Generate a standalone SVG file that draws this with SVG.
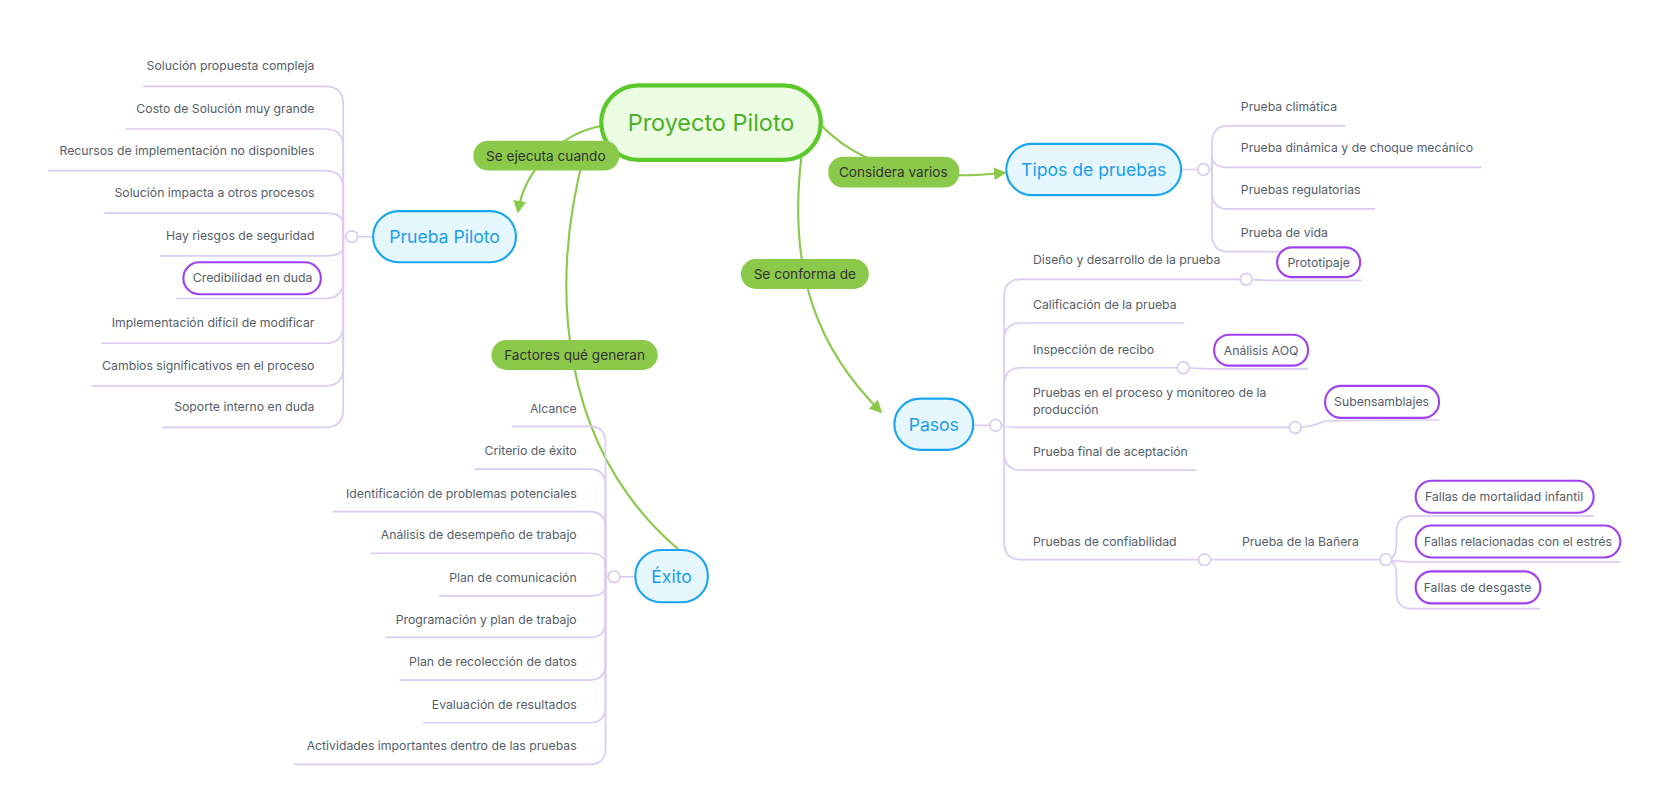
<svg xmlns="http://www.w3.org/2000/svg" width="1663" height="808" viewBox="0 0 1663 808">
<defs>
<marker id="ar" viewBox="0 0 10 10" refX="8" refY="5" markerWidth="6" markerHeight="6" orient="auto"><path d="M0,0 L10,5 L0,10 z" fill="#8bc94a"/></marker>
<style>
text{font-family:Inter,"Open Sans","Liberation Sans",sans-serif}
.it{font-size:11.5px;fill:#555e6a}
.lb{font-size:12.8px;fill:#333}
.pill{fill:#8bc94a}
.br rect{fill:#e5f6fd;stroke:#19a5f0;stroke-width:2}
.br text{font-size:16.5px;fill:#1a9eec;text-anchor:middle}
.bx{fill:#fff;stroke:#a040f0;stroke-width:2}
.ln{fill:none;stroke:#dccbf0;stroke-width:1.6}
.hub{fill:#fff;stroke:#dccbf0;stroke-width:1.6}
.cn{fill:none;stroke:#8bc94a;stroke-width:2}
</style>
</defs>
<rect width="1663" height="808" fill="#fff"/>
<g transform="scale(1.066)">
<g id="connectors">
<path class="cn" d="M565,118 C525,125 492,160 486,198" marker-end="url(#ar)"/>
<path class="cn" d="M548,145 C515,270 525,420 636,515"/>
<path class="cn" d="M768,115 C800,150 850,172 942,162" marker-end="url(#ar)"/>
<path class="cn" d="M752,145 C738,260 770,330 826,386" marker-end="url(#ar)"/>
<g class="ln">
<path d="M134,81 H305 Q322,81 322,98 V222"/>
<path d="M118,121 H305 Q322,121 322,138 V222"/>
<path d="M45,160 H305 Q322,160 322,177 V222"/>
<path d="M98,200 H305 Q322,200 322,210 V222"/>
<path d="M150,240 H305 Q322,240 322,232 V222"/>
<path d="M165,280 H305 Q322,280 322,263 V222"/>
<path d="M95,322 H305 Q322,322 322,305 V222"/>
<path d="M86,362 H305 Q322,362 322,345 V222"/>
<path d="M152,401 H305 Q322,401 322,384 V222"/>
<path d="M322,222 H350"/>
</g>
<g class="ln">
<path d="M480,400 H553 Q568,400 568,415 V541"/>
<path d="M445,440 H553 Q568,440 568,455 V541"/>
<path d="M312,480 H553 Q568,480 568,495 V541"/>
<path d="M348,519 H553 Q568,519 568,530 V541"/>
<path d="M412,559 H553 Q568,559 568,550 V541"/>
<path d="M362,598 H553 Q568,598 568,583 V541"/>
<path d="M375,638 H553 Q568,638 568,623 V541"/>
<path d="M397,678 H553 Q568,678 568,663 V541"/>
<path d="M276,717 H553 Q568,717 568,702 V541"/>
<path d="M568,541 H596"/>
</g>
<g class="ln">
<path d="M1108,159 H1137 V134 Q1137,118 1152,118 H1262"/>
<path d="M1137,159 V146 Q1137,157 1152,157 H1390"/>
<path d="M1137,159 V180 Q1137,196 1152,196 H1290"/>
<path d="M1137,159 V220 Q1137,236 1152,236 H1255"/>
</g>
<g class="ln">
<path d="M913,399 H942"/>
<path d="M942,399 V278 Q942,262 958,262 H1169 L1190,263 H1277"/>
<path d="M942,399 V319 Q942,303 958,303 H1111"/>
<path d="M942,399 V361 Q942,345 958,345 H1110 L1135,346 H1227"/>
<path d="M942,399 Q942,401 958,401 H1215 Q1230,401 1243,395 Q1250,394 1350,394"/>
<path d="M942,399 V425 Q942,441 958,441 H1122"/>
<path d="M942,399 V509 Q942,525 958,525 H1300"/>
<path d="M1300,525 Q1310,525 1310,510 V499 Q1310,484 1325,484 H1495"/>
<path d="M1300,525 Q1310,527 1325,527 H1520"/>
<path d="M1300,525 Q1310,525 1310,540 V556 Q1310,571 1325,571 H1445"/>
</g>
<circle class="hub" cx="330" cy="222" r="5.5"/>
<circle class="hub" cx="576" cy="541" r="5.5"/>
<circle class="hub" cx="1129" cy="159" r="5.5"/>
<circle class="hub" cx="934" cy="399" r="5.5"/>
<circle class="hub" cx="1169" cy="262" r="5.5"/>
<circle class="hub" cx="1110" cy="345" r="5.5"/>
<circle class="hub" cx="1215" cy="401" r="5.5"/>
<circle class="hub" cx="1130" cy="525" r="5.5"/>
<circle class="hub" cx="1300" cy="525" r="5.5"/>
</g>
<g id="root">
<rect x="564" y="80" width="206" height="70" rx="35" fill="#ebfce3" stroke="#5bc92c" stroke-width="4"/>
<text x="667" y="123" font-size="22" fill="#4caf26" text-anchor="middle">Proyecto Piloto</text>
</g>
<g id="label-ejecuta"><rect class="pill" x="444" y="132" width="137" height="28" rx="14"/><text class="lb" x="512" y="151" text-anchor="middle">Se ejecuta cuando</text></g>
<g id="label-considera"><rect class="pill" x="777" y="147" width="123" height="29" rx="14"/><text class="lb" x="838" y="166" text-anchor="middle">Considera varios</text></g>
<g id="label-conforma"><rect class="pill" x="695" y="243" width="120" height="28" rx="14"/><text class="lb" x="755" y="262" text-anchor="middle">Se conforma de</text></g>
<g id="label-factores"><rect class="pill" x="461" y="319" width="156" height="28" rx="14"/><text class="lb" x="539" y="338" text-anchor="middle">Factores qué generan</text></g>
<g id="prueba-piloto" class="br"><rect x="350" y="198" width="134" height="48" rx="24"/><text x="417" y="228">Prueba Piloto</text></g>
<g id="tipos" class="br"><rect x="944" y="135" width="164" height="48" rx="24"/><text x="1026" y="165">Tipos de pruebas</text></g>
<g id="pasos" class="br"><rect x="839" y="374" width="74" height="48" rx="24"/><text x="876" y="404">Pasos</text></g>
<g id="exito" class="br"><rect x="596" y="516" width="68" height="49" rx="24"/><text x="630" y="547">Éxito</text></g>
<g id="pp-items" text-anchor="end">
<text class="it" x="295" y="66">Solución propuesta compleja</text>
<text class="it" x="295" y="106">Costo de Solución muy grande</text>
<text class="it" x="295" y="145">Recursos de implementación no disponibles</text>
<text class="it" x="295" y="185">Solución impacta a otros procesos</text>
<text class="it" x="295" y="225">Hay riesgos de seguridad</text>
<rect class="bx" x="172" y="246" width="129" height="30" rx="15"/>
<text class="it" x="237" y="265" text-anchor="middle">Credibilidad en duda</text>
<text class="it" x="295" y="307">Implementación difícil de modificar</text>
<text class="it" x="295" y="347">Cambios significativos en el proceso</text>
<text class="it" x="295" y="386">Soporte interno en duda</text>
</g>
<g id="exito-items" text-anchor="end">
<text class="it" x="541" y="387">Alcance</text>
<text class="it" x="541" y="427">Criterio de éxito</text>
<text class="it" x="541" y="467">Identificación de problemas potenciales</text>
<text class="it" x="541" y="506">Análisis de desempeño de trabajo</text>
<text class="it" x="541" y="546">Plan de comunicación</text>
<text class="it" x="541" y="585">Programación y plan de trabajo</text>
<text class="it" x="541" y="625">Plan de recolección de datos</text>
<text class="it" x="541" y="665">Evaluación de resultados</text>
<text class="it" x="541" y="704">Actividades importantes dentro de las pruebas</text>
</g>
<g id="tipos-items">
<text class="it" x="1164" y="104">Prueba climática</text>
<text class="it" x="1164" y="143">Prueba dinámica y de choque mecánico</text>
<text class="it" x="1164" y="182">Pruebas regulatorias</text>
<text class="it" x="1164" y="222">Prueba de vida</text>
</g>
<g id="pasos-items">
<text class="it" x="969" y="248">Diseño y desarrollo de la prueba</text>
<text class="it" x="969" y="290">Calificación de la prueba</text>
<text class="it" x="969" y="332">Inspección de recibo</text>
<text class="it" x="969" y="372">Pruebas en el proceso y monitoreo de la</text>
<text class="it" x="969" y="388">producción</text>
<text class="it" x="969" y="428">Prueba final de aceptación</text>
<text class="it" x="969" y="512">Pruebas de confiabilidad</text>
<text class="it" x="1165" y="512">Prueba de la Bañera</text>
</g>
<g id="prototipaje"><rect class="bx" x="1198" y="232" width="78" height="28" rx="14"/><text class="it" x="1237" y="250" text-anchor="middle">Prototipaje</text></g>
<g id="aoq"><rect class="bx" x="1139" y="314" width="88" height="29" rx="14"/><text class="it" x="1183" y="333" text-anchor="middle">Análisis AOQ</text></g>
<g id="subens"><rect class="bx" x="1243" y="362" width="107" height="30" rx="15"/><text class="it" x="1296" y="381" text-anchor="middle">Subensamblajes</text></g>
<g id="f1"><rect class="bx" x="1328" y="451" width="167" height="30" rx="15"/><text class="it" x="1411" y="470" text-anchor="middle">Fallas de mortalidad infantil</text></g>
<g id="f2"><rect class="bx" x="1328" y="493" width="192" height="30" rx="15"/><text class="it" x="1424" y="512" text-anchor="middle">Fallas relacionadas con el estrés</text></g>
<g id="f3"><rect class="bx" x="1328" y="536" width="117" height="30" rx="15"/><text class="it" x="1386" y="555" text-anchor="middle">Fallas de desgaste</text></g>
</g>
</svg>
